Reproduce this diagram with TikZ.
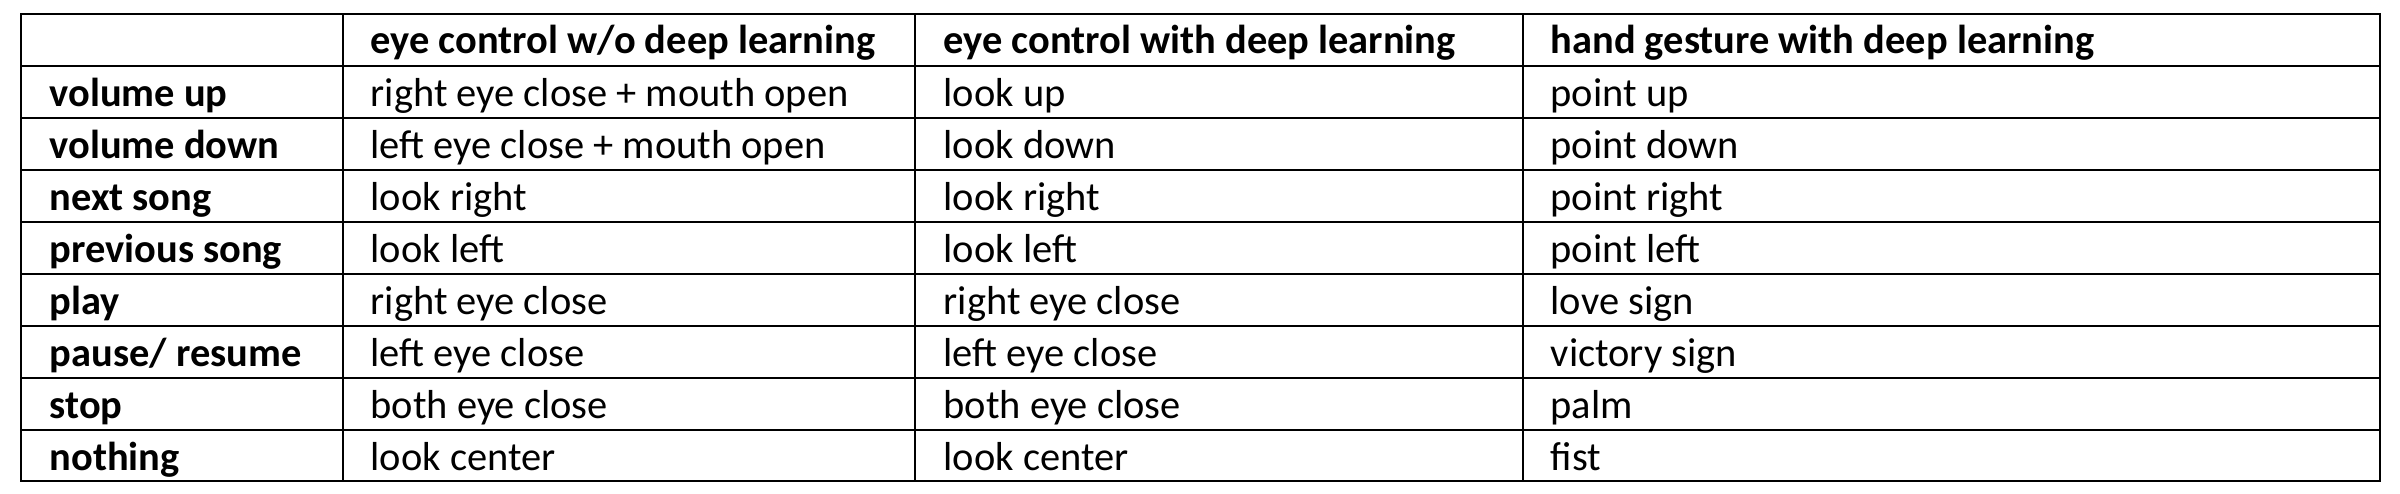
\documentclass[tikz,border=0pt]{standalone}
\usepackage{fontspec}
\setmainfont{Carlito}
\begin{document}
\begin{tikzpicture}[x=0.01cm,y=-0.01cm,
  cell/.style={anchor=base west,inner sep=0pt,font=\fontsize{11.5}{13}\selectfont},
  head/.style={cell,font=\fontsize{11.5}{13}\selectfont\bfseries},
  rule/.style={line width=0.6pt,black}]
\useasboundingbox (0,0) rectangle (2400,494);
% grid
\draw[rule] (21,14) rectangle (2380,481);
\foreach \y in {66,118,170,222,274,326,378,430}
  \draw[rule] (21,\y) -- (2380,\y);
\foreach \x in {343,915,1523}
  \draw[rule] (\x,14) -- (\x,481);
% header row
\node[head] (h1) at (370,54) {eye control w/o deep learning};
\node[head] (h2) at (943,54) {eye control with deep learning};
\node[head] (h3) at (1550,54) {hand gesture with deep learning};
% body rows
\foreach \i/\a/\b/\c/\d in {
  1/volume up/right eye close + mouth open/look up/point up,
  2/volume down/left eye close + mouth open/look down/point down,
  3/next song/look right/look right/point right,
  4/previous song/look left/look left/point left,
  5/play/right eye close/right eye close/love sign,
  6/pause\slash\ resume/left eye close/left eye close/victory sign,
  7/stop/both eye close/both eye close/palm,
  8/nothing/look center/look center/fist}{
  \node[head] (r\i) at (49,54+52*\i) {\a};
  \node[cell] (a\i) at (370,54+52*\i) {\b};
  \node[cell] (b\i) at (943,54+52*\i) {\c};
  \node[cell] (c\i) at (1550,54+52*\i) {\d};
}
\end{tikzpicture}
\end{document}
